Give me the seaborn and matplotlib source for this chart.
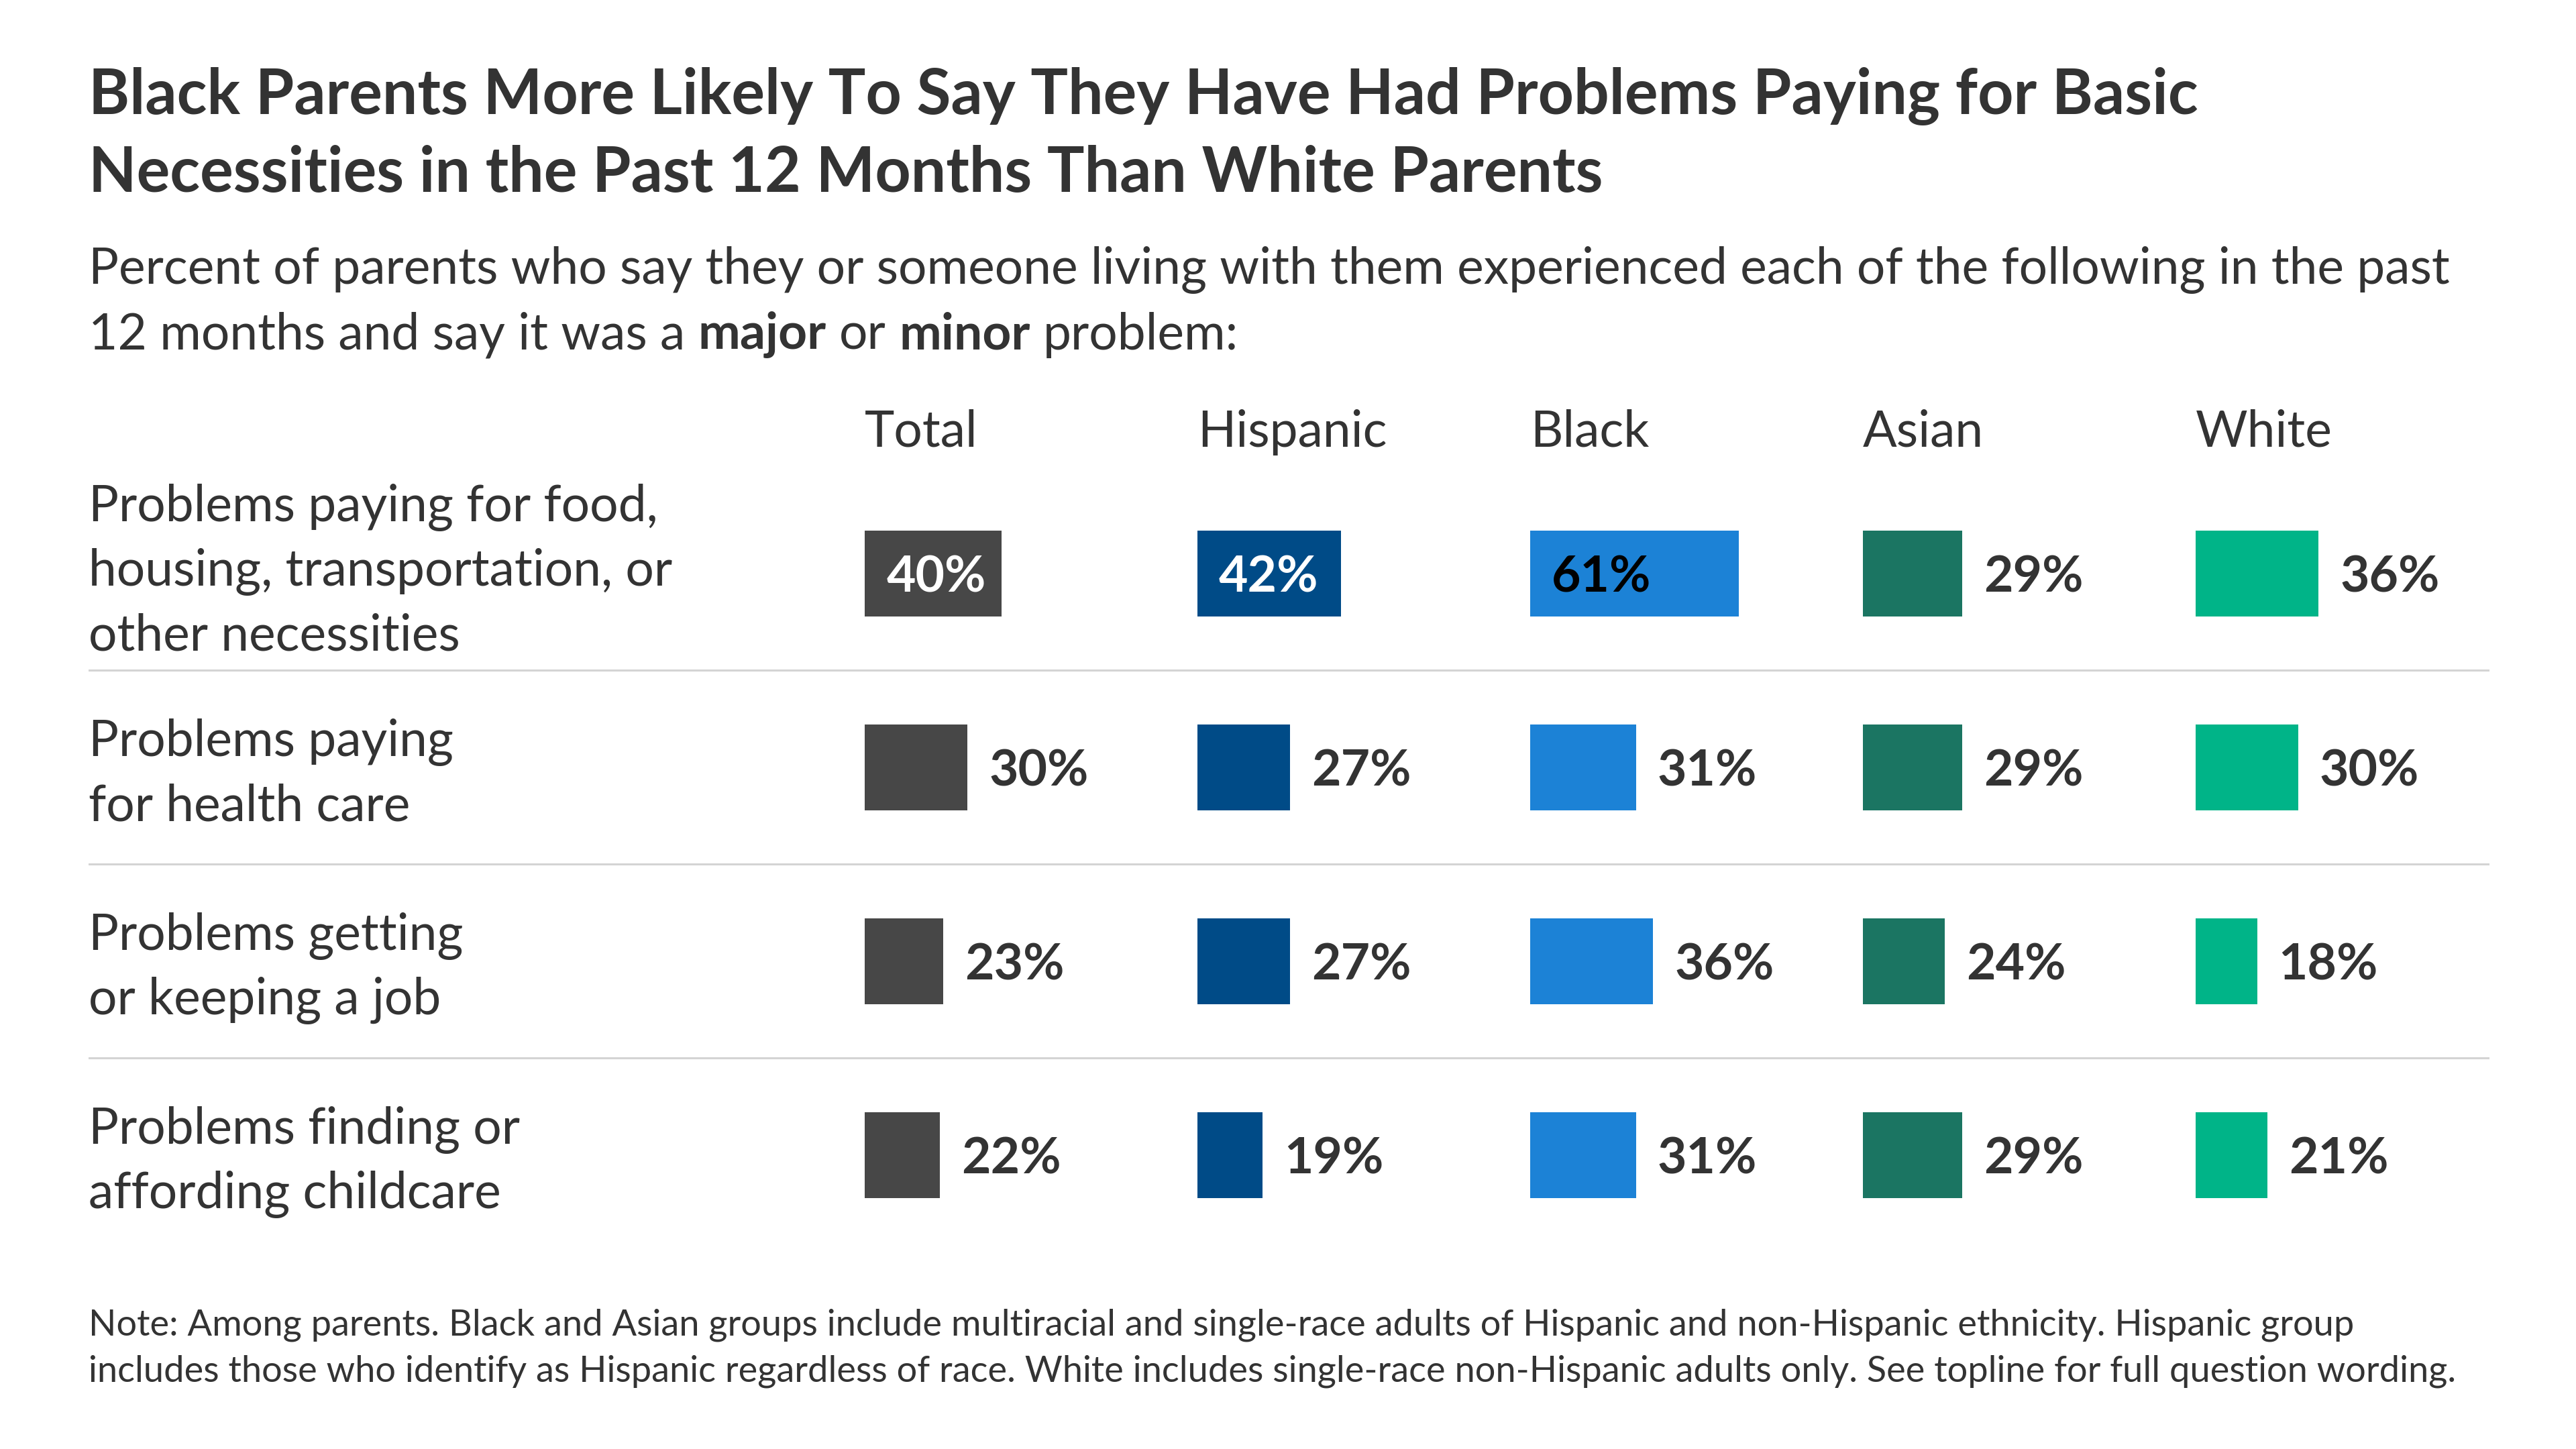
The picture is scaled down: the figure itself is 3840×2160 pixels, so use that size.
import matplotlib
matplotlib.use("Agg")
import matplotlib.pyplot as plt
import matplotlib.transforms as mtransforms
import pandas as pd
import seaborn as sns

# chart data
problems = ["Problems paying for food,\nhousing, transportation, or\nother necessities",
            "Problems paying\nfor health care",
            "Problems getting\nor keeping a job",
            "Problems finding or\naffording childcare"]
groups = ["Total", "Hispanic", "Black", "Asian", "White"]
total = [40, 30, 23, 22]
hispanic = [42, 27, 27, 19]
black = [61, 31, 36, 31]
asian = [29, 29, 24, 29]
white = [36, 30, 18, 21]
colors = ["#474747", "#004B87", "#1C82D6", "#1B7562", "#00B488"]
inside_color = ["white", "white", "black", "white", "white"]

title_lines = ["Black Parents More Likely To Say They Have Had Problems Paying for Basic",
               "Necessities in the Past 12 Months Than White Parents"]
subtitle_1 = "Percent of parents who say they or someone living with them experienced each of the following in the past"
subtitle_2 = [("12 months and say it was a", "normal"), ("major", "bold"), ("or", "normal"),
              ("minor", "bold"), ("problem:", "normal")]
note_lines = ["Note: Among parents. Black and Asian groups include multiracial and single-race adults of Hispanic and non-Hispanic ethnicity. Hispanic group",
              "includes those who identify as Hispanic regardless of race. White includes single-race non-Hispanic adults only. See topline for full question wording."]

TXT = "#333333"

sns.set_theme(style="white")
plt.rcParams["font.family"] = ["Lato", "DejaVu Sans"]

fig = plt.figure(figsize=(38.4, 21.6), dpi=100)
fig.patch.set_facecolor("white")

left = 0.0343
plot_bottom, plot_height = 0.1359, 0.5352

# background axes: row labels and separators
ax_bg = fig.add_axes([left, plot_bottom, 0.9663 - left, plot_height])
ax_bg.set_xlim(0, 1)
ax_bg.set_ylim(len(problems) - 0.5, -0.5)
ax_bg.axis("off")
for i in range(len(problems) - 1):
    ax_bg.axhline(i + 0.5, color="#d4d4d4", lw=2.2)
for i, label in enumerate(problems):
    lines = label.split("\n")
    n = len(lines)
    for k, line in enumerate(lines):
        y = i + 0.063 + 0.045 * (3 - n) + (k - (n - 1) / 2) * 0.332
        ax_bg.text(0, y, line, fontsize=54, color=TXT, va="baseline", ha="left")

# title and subtitle
fig.text(left, 0.9213, title_lines[0], fontsize=67, fontweight="bold", color=TXT, va="baseline")
fig.text(left, 0.8676, title_lines[1], fontsize=67, fontweight="bold", color=TXT, va="baseline")
fig.text(left, 0.8040, subtitle_1, fontsize=54, color=TXT, va="baseline")
prev = fig.text(left, 0.7592, subtitle_2[0][0], fontsize=54, color=TXT, va="baseline")
for piece, weight in subtitle_2[1:]:
    prev = ax_bg.annotate(piece, xy=(1, 0), xycoords=prev, xytext=(14, 0),
                          textcoords="offset points", fontsize=54, fontweight=weight,
                          color=TXT, ha="left", va="bottom")

# one small bar axes per group
col_left = 0.33573
col_step = 0.12914
series = [total, hispanic, black, asian, white]
for j, (name, vals) in enumerate(zip(groups, series)):
    ax = fig.add_axes([col_left + j * col_step, plot_bottom, col_step, plot_height])
    df = pd.DataFrame({"problem": problems, "value": vals})
    sns.barplot(data=df, x="value", y="problem", color=colors[j], width=0.443,
                saturation=1, errorbar=None, linewidth=0, ax=ax)
    ax.set_xlim(0, 97.3)
    ax.set_ylim(len(problems) - 0.5, -0.5)
    ax.axis("off")
    ax.patch.set_alpha(0)
    trans = mtransforms.blended_transform_factory(ax.transAxes, fig.transFigure)
    ax.text(0, 0.6917, name, transform=trans, fontsize=54, color=TXT, va="baseline", ha="left")
    for i, v in enumerate(vals):
        if v >= 40:
            ax.annotate(f"{v}%", xy=(0, i), xytext=(23, 0), textcoords="offset points",
                        ha="left", va="center_baseline", fontsize=54, fontweight="bold",
                        color=inside_color[j])
        else:
            ax.annotate(f"{v}%", xy=(v, i), xytext=(23, 0), textcoords="offset points",
                        ha="left", va="center_baseline", fontsize=54, fontweight="bold",
                        color=TXT)

# note
fig.text(left, 0.0787, note_lines[0], fontsize=39, color=TXT, va="baseline")
fig.text(left, 0.0463, note_lines[1], fontsize=39, color=TXT, va="baseline")

fig.savefig("out.png", dpi=100, facecolor="white")
